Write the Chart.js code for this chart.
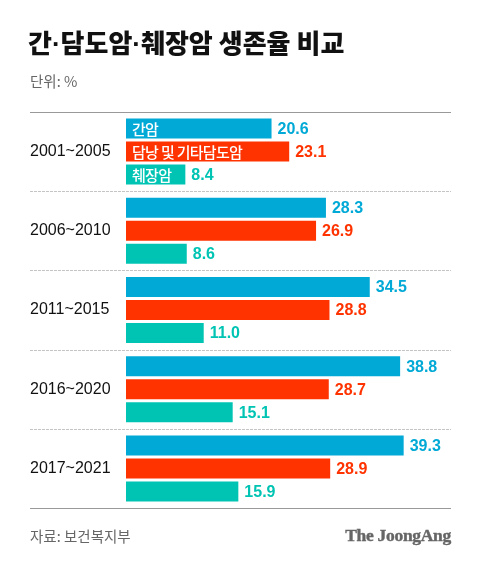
<!DOCTYPE html>
<html>
<head>
<meta charset="utf-8">
<script src="https://cdn.jsdelivr.net/npm/chart.js@4"></script>
<style>
  body { margin: 0; background: #fff; }
  #wrap { position: relative; width: 480px; height: 564px; overflow: hidden; }
  #chart { position: absolute; left: 0; top: 0; }
  .txt { position: absolute; white-space: nowrap; font-family: "Noto Sans CJK KR", sans-serif; }
  #title { left: 28px; top: 25px; font-size: 26px; font-weight: 900; letter-spacing: 0; color: #111; line-height: 34px; }
  #title .dot { font-family: "Liberation Sans", sans-serif; font-weight: 700; }
  #unit { left: 30px; top: 72px; font-size: 14.5px; color: #666; line-height: 18px; }
  #source { left: 30px; top: 527px; font-size: 14.5px; color: #666; line-height: 18px; }
  #logo { right: 29px; top: 524px; font-family: "Liberation Serif", serif; font-weight: 700; font-size: 17.5px; color: #666; letter-spacing: -0.3px; line-height: 22px; -webkit-text-stroke: 0.4px #666; }
</style>
</head>
<body>
<div id="wrap">
  <canvas id="chart" width="480" height="564"></canvas>
  <div class="txt" id="title">간<span class="dot">·</span>담도암<span class="dot">·</span>췌장암 생존율 비교</div>
  <div class="txt" id="unit">단위: %</div>
  <div class="txt" id="source">자료: 보건복지부</div>
  <div class="txt" id="logo">The JoongAng</div>
</div>
<script>
const periods = ["2001~2005", "2006~2010", "2011~2015", "2016~2020", "2017~2021"];
const seriesNames = ["간암", "담낭 및 기타담도암", "췌장암"];
const liver = [20.6, 28.3, 34.5, 38.8, 39.3];
const biliary = [23.1, 26.9, 28.8, 28.7, 28.9];
const pancreas = [8.4, 8.6, 11.0, 15.1, 15.9];

const colors = ["#00a9d6", "#ff3300", "#00c4b3"];
const numFont = '"Liberation Sans", "Noto Sans CJK KR", sans-serif';

// 구분선 + 값 라벨 + 첫 그룹 안쪽 범례
const decorPlugin = {
  id: "decor",
  beforeDatasetsDraw(chart) {
    const { ctx, chartArea } = chart;
    const y = chart.scales.y;
    const n = periods.length;
    ctx.save();
    ctx.lineWidth = 1;
    for (let i = 0; i <= n; i++) {
      let py;
      if (i === 0) py = chartArea.top;
      else if (i === n) py = chartArea.bottom;
      else py = (y.getPixelForTick(i - 1) + y.getPixelForTick(i)) / 2;
      py = Math.round(py) + 0.5;
      if (i === 0 || i === n) {
        ctx.strokeStyle = "#999";
        ctx.setLineDash([]);
      } else {
        ctx.strokeStyle = "#c4c4c4";
        ctx.setLineDash([3, 1]);
      }
      ctx.beginPath();
      ctx.moveTo(30, py);
      ctx.lineTo(chartArea.right, py);
      ctx.stroke();
    }
    ctx.restore();
  },
  afterDatasetsDraw(chart) {
    const { ctx } = chart;
    ctx.save();
    ctx.textBaseline = "middle";
    chart.data.datasets.forEach((ds, di) => {
      const meta = chart.getDatasetMeta(di);
      meta.data.forEach((bar, j) => {
        ctx.textAlign = "left";
        ctx.letterSpacing = "0px";
        ctx.fillStyle = colors[di];
        ctx.font = "bold 16px " + numFont;
        ctx.fillText(ds.data[j].toFixed(1), bar.x + 6, bar.y + 1);
        if (j === 0) {
          ctx.fillStyle = "#fff";
          ctx.font = '500 15px "Noto Sans CJK KR", sans-serif';
          ctx.letterSpacing = "-0.7px";
          ctx.fillText(ds.label, bar.base + 6, bar.y + 1);
        }
      });
    });
    ctx.restore();
  },
};

new Chart(document.getElementById("chart"), {
  type: "bar",
  data: {
    labels: periods,
    datasets: [
      { label: seriesNames[0], data: liver, backgroundColor: colors[0] },
      { label: seriesNames[1], data: biliary, backgroundColor: colors[1] },
      { label: seriesNames[2], data: pancreas, backgroundColor: colors[2] },
    ],
  },
  options: {
    indexAxis: "y",
    responsive: false,
    animation: false,
    categoryPercentage: 0.871,
    barPercentage: 0.87,
    layout: { padding: { left: 30, top: 112, right: 29, bottom: 56 } },
    plugins: { legend: { display: false }, tooltip: { enabled: false } },
    scales: {
      x: { display: false, min: 0, max: 46 },
      y: {
        grid: { display: false },
        border: { display: false },
        ticks: {
          crossAlign: "far",
          padding: 0,
          color: "#111",
          font: { family: numFont, size: 16 },
        },
        afterFit(scale) {
          scale.width = 96;
        },
      },
    },
  },
  plugins: [decorPlugin],
});
</script>
</body>
</html>
